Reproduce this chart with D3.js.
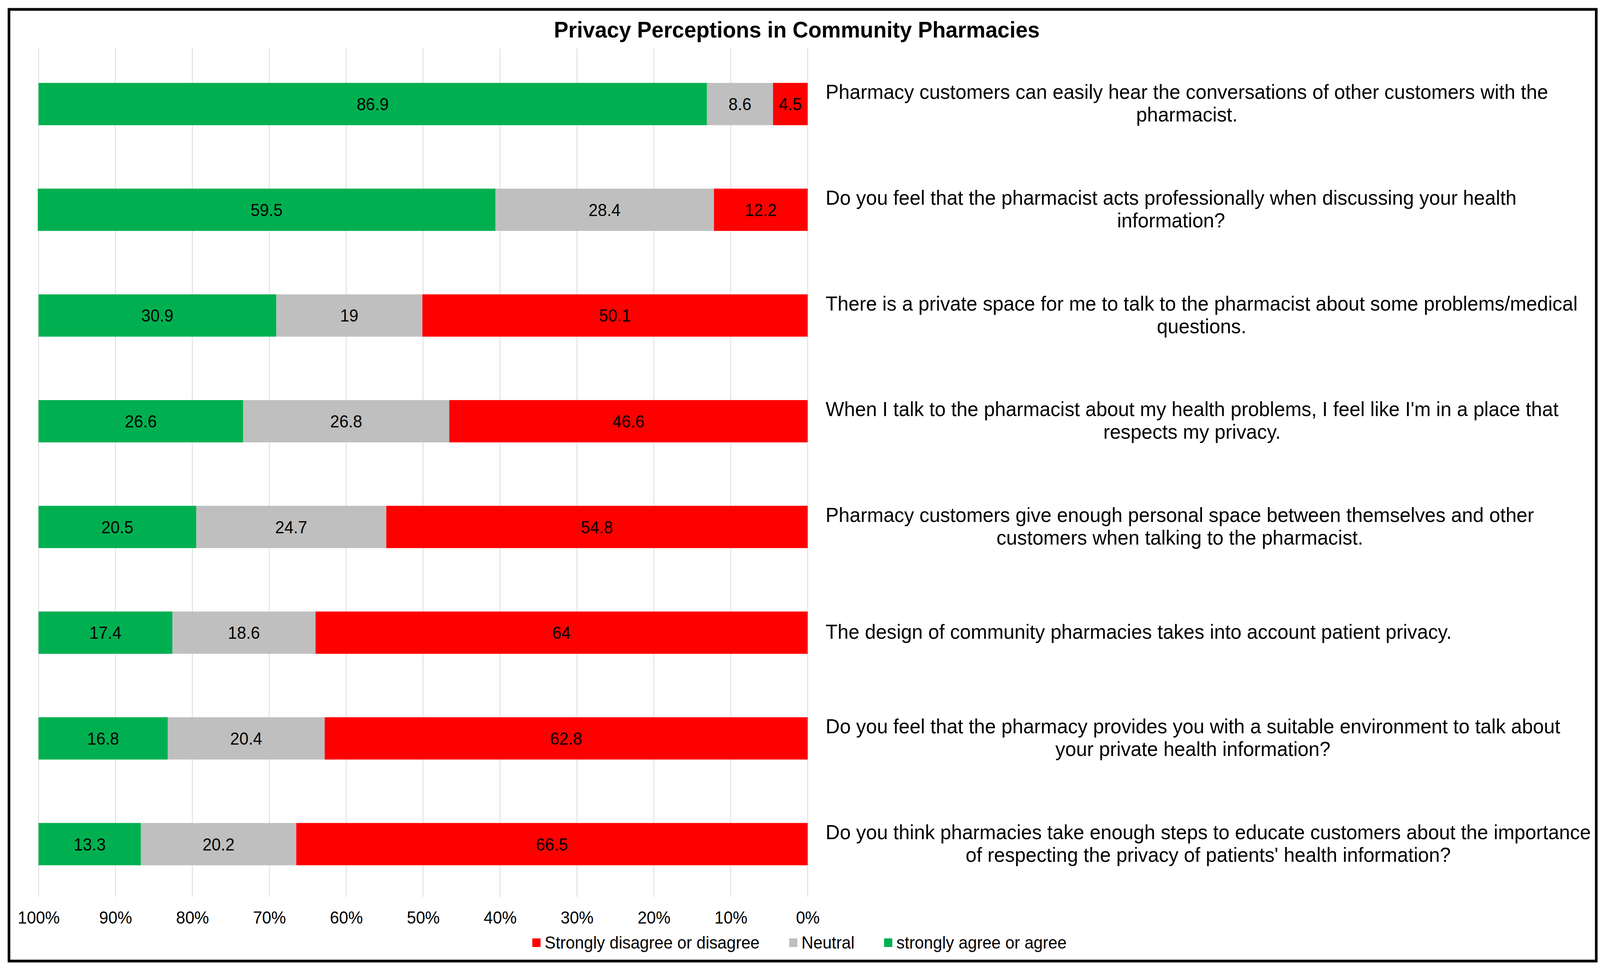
<!DOCTYPE html>
<html>
<head>
<meta charset="utf-8">
<script src="https://cdn.jsdelivr.net/npm/d3@7"></script>
<style>
  html, body { margin: 0; padding: 0; background: #fff; overflow: hidden; }
  svg { display: block; }
  text { font-family: "Liberation Sans", Arial, sans-serif; }
</style>
</head>
<body>
<script>
// survey items, top to bottom
var categories = [
	"Pharmacy customers can easily hear the conversations of other customers with the pharmacist.",
	"Do you feel that the pharmacist acts professionally when discussing your health information?",
	"There is a private space for me to talk to the pharmacist about some problems/medical questions.",
	"When I talk to the pharmacist about my health problems, I feel like I'm in a place that respects my privacy.",
	"Pharmacy customers give enough personal space between themselves and other customers when talking to the pharmacist.",
	"The design of community pharmacies takes into account patient privacy.",
	"Do you feel that the pharmacy provides you with a suitable environment to talk about your private health information?",
	"Do you think pharmacies take enough steps to educate customers about the importance of respecting the privacy of patients' health information?"
];

// percentages per series
var disagreeValues = [4.5, 12.2, 50.1, 46.6, 54.8, 64, 62.8, 66.5];
var neutralValues = [8.6, 28.4, 19, 26.8, 24.7, 18.6, 20.4, 20.2];
var agreeValues = [86.9, 59.5, 30.9, 26.6, 20.5, 17.4, 16.8, 13.3];

var seriesNames = ["Strongly disagree or disagree", "Neutral", "strongly agree or agree"];
var seriesColors = ["#FF0000", "#BFBFBF", "#00B050"];
var tickValues = [0, 10, 20, 30, 40, 50, 60, 70, 80, 90, 100];

var W = 4277, H = 2488;
var plotLeft = 103, plotRight = 2159;
var plotTop = 131, plotBottom = 2296;
var labelX = 2207, labelMaxWidth = 2065, labelSize = 52.5, lineGap = 58;

var rows = categories.map(function(c, i) {
	return {cat: c, s0: disagreeValues[i], s1: neutralValues[i], s2: agreeValues[i]};
});

// the viewport may be narrower than the requested window, so scale to fill it
var svg = d3.select('body').append('svg')
	.attr('viewBox', '0 0 ' + W + ' ' + H)
	.attr('preserveAspectRatio', 'none')
	.style('width', '100vw')
	.style('height', '100vh');

svg.append('rect')
	.attr('width', W).attr('height', H)
	.attr('fill', '#fff');

// outer frame
svg.append('rect')
	.attr('x', 24).attr('y', 24)
	.attr('width', 4243).attr('height', 2436)
	.attr('fill', 'none')
	.attr('stroke', '#000')
	.attr('stroke-width', 7);

svg.append('text')
	.attr('x', 2130)
	.attr('y', 96)
	.attr('text-anchor', 'middle')
	.attr('font-size', 58)
	.attr('font-weight', 'bold')
	.text('Privacy Perceptions in Community Pharmacies');

// 0% on the right, 100% on the left
var x = d3.scaleLinear().domain([0, 100]).range([plotRight, plotLeft]);
var y = d3.scaleBand().domain(categories).range([plotTop, plotBottom])
	.paddingInner(0.6).paddingOuter(0.3);

// gridlines
svg.append('g').selectAll('line')
	.data(tickValues)
	.enter()
	.append('line')
	.attr('x1', function(d) { return x(d); })
	.attr('x2', function(d) { return x(d); })
	.attr('y1', 124)
	.attr('y2', plotBottom)
	.attr('stroke', '#D9D9D9')
	.attr('stroke-width', 2);

// tick labels
var xAxis = svg.append('g')
	.attr('transform', 'translate(0,2364)')
	.call(d3.axisBottom(x).tickValues(tickValues).tickSize(0).tickPadding(0)
		.tickFormat(function(d) { return d + '%'; }));
xAxis.select('.domain').remove();
xAxis.selectAll('text')
	.attr('font-size', 44)
	.attr('font-family', '"Liberation Sans", Arial, sans-serif')
	.attr('fill', '#000')
	.attr('dy', 0);

var stack = d3.stack().keys(['s0', 's1', 's2']);
var layers = stack(rows);

var layerG = svg.append('g').selectAll('g')
	.data(layers)
	.enter()
	.append('g')
	.attr('fill', function(d, i) { return seriesColors[i]; });

layerG.selectAll('rect')
	.data(function(d) { return d; })
	.enter()
	.append('rect')
	.attr('x', function(d) { return x(d[1]); })
	.attr('y', function(d) { return y(d.data.cat); })
	.attr('width', function(d) { return x(d[0]) - x(d[1]); })
	.attr('height', y.bandwidth());

layerG.selectAll('text')
	.data(function(d) { return d; })
	.enter()
	.append('text')
	.attr('x', function(d) { return (x(d[0]) + x(d[1])) / 2; })
	.attr('y', function(d) { return y(d.data.cat) + y.bandwidth() / 2; })
	.attr('dy', '0.36em')
	.attr('text-anchor', 'middle')
	.attr('font-size', 44)
	.attr('fill', '#000')
	.text(function(d) { return d3.format('~g')(+(d[1] - d[0]).toFixed(1)); });

// category labels on the right, wrapped and centred within their block
var labelG = svg.append('g');
var measurer = svg.append('text').attr('font-size', labelSize).attr('visibility', 'hidden');
function textWidth(s) {
	measurer.text(s);
	return measurer.node().getComputedTextLength();
}
categories.forEach(function(cat) {
	var words = cat.split(' ');
	var lines = [];
	var cur = '';
	words.forEach(function(w) {
		var test = cur ? cur + ' ' + w : w;
		if (cur && textWidth(test) > labelMaxWidth) {
			lines.push(cur);
			cur = w;
		} else {
			cur = test;
		}
	});
	lines.push(cur);
	var blockW = d3.max(lines, textWidth);
	var cy = y(cat) + y.bandwidth() / 2;
	var n = lines.length;
	lines.forEach(function(line, i) {
		labelG.append('text')
			.attr('x', labelX + blockW / 2)
			.attr('y', cy + (i - (n - 1) / 2) * lineGap + 16)
			.attr('text-anchor', 'middle')
			.attr('font-size', labelSize)
			.text(line);
	});
});
measurer.remove();

// legend
var legend = svg.append('g');
var lx = 0;
seriesNames.forEach(function(name, i) {
	var item = legend.append('g').attr('transform', 'translate(' + lx + ',0)');
	item.append('rect')
		.attr('x', 0).attr('y', -11)
		.attr('width', 22).attr('height', 22)
		.attr('fill', seriesColors[i]);
	var t = item.append('text')
		.attr('x', 33)
		.attr('dy', '0.35em')
		.attr('font-size', 44)
		.text(name);
	lx += 33 + t.node().getComputedTextLength() + 79;
});
var legendW = lx - 79;
legend.attr('transform', 'translate(' + (2137 - legendW / 2) + ',2413)');
</script>
</body>
</html>
